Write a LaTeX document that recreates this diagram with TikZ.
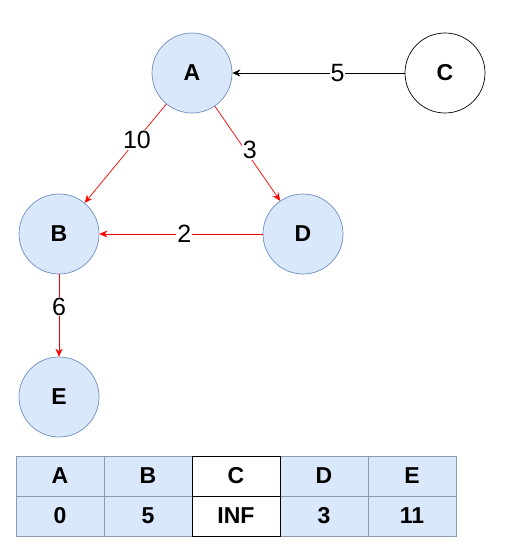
\documentclass[tikz,border=0pt]{standalone}
\usepackage{fontspec}
\setmainfont{Liberation Sans}
\usetikzlibrary{arrows.meta}
\definecolor{vtx}{HTML}{DAE8FC}
\definecolor{vtxline}{HTML}{6C8EBF}
\definecolor{cellline}{HTML}{8C9AAB}
\definecolor{hop}{HTML}{FF0000}

\tikzset{
  vertex/.style={circle,minimum size=80pt,inner sep=0pt,fill=vtx,draw=vtxline,
    line width=0.7pt,font=\fontsize{23}{25}\selectfont\bfseries},
  cell/.style={rectangle,minimum width=88pt,minimum height=40pt,inner sep=0pt,
    fill=vtx,draw=cellline,line width=1pt,font=\fontsize{23}{25}\selectfont\bfseries},
  wgt/.style={fill=white,inner sep=1pt,font=\fontsize{25}{28}\selectfont},
  hopline/.style={draw=hop,line width=0.7pt,-{Stealth[length=8pt,width=7pt]}}
}

\begin{document}
\begin{tikzpicture}[x=1pt,y=-1pt]
  \useasboundingbox (0,0) rectangle (504,553);
  % graph
  \node[vertex] (A) at (192,73) {A};
  \node[vertex,fill=white,draw=black] (C) at (445,73) {C};
  \node[vertex] (B) at (59,234) {B};
  \node[vertex] (D) at (303,234) {D};
  \node[vertex] (E) at (59,397) {E};
  \draw[line width=0.7pt,-{Stealth[length=8pt,width=7pt]}] (C) -- (A)
    node[wgt,pos=0.39]{5};
  \draw[hopline] (A) -- (B) node[wgt,pos=0.36]{10};
  \draw[hopline] (A) -- (D) node[wgt,pos=0.46,xshift=5pt]{3};
  \draw[hopline] (D) -- (B) node[wgt,pos=0.48]{2};
  \draw[hopline] (B) -- (E) node[wgt,pos=0.39]{6};
  % distance table
  \foreach \i/\n/\v in {0/A/0,1/B/5,3/D/3,4/E/11}{
    \node[cell] (head\n) at (60+88*\i,476) {\n};
    \node[cell] (dist\n) at (60+88*\i,516) {\v};
  }
  \node[cell,fill=white,draw=black] (headC) at (236,476) {C};
  \node[cell,fill=white,draw=black] (distC) at (236,516) {INF};
\end{tikzpicture}
\end{document}
